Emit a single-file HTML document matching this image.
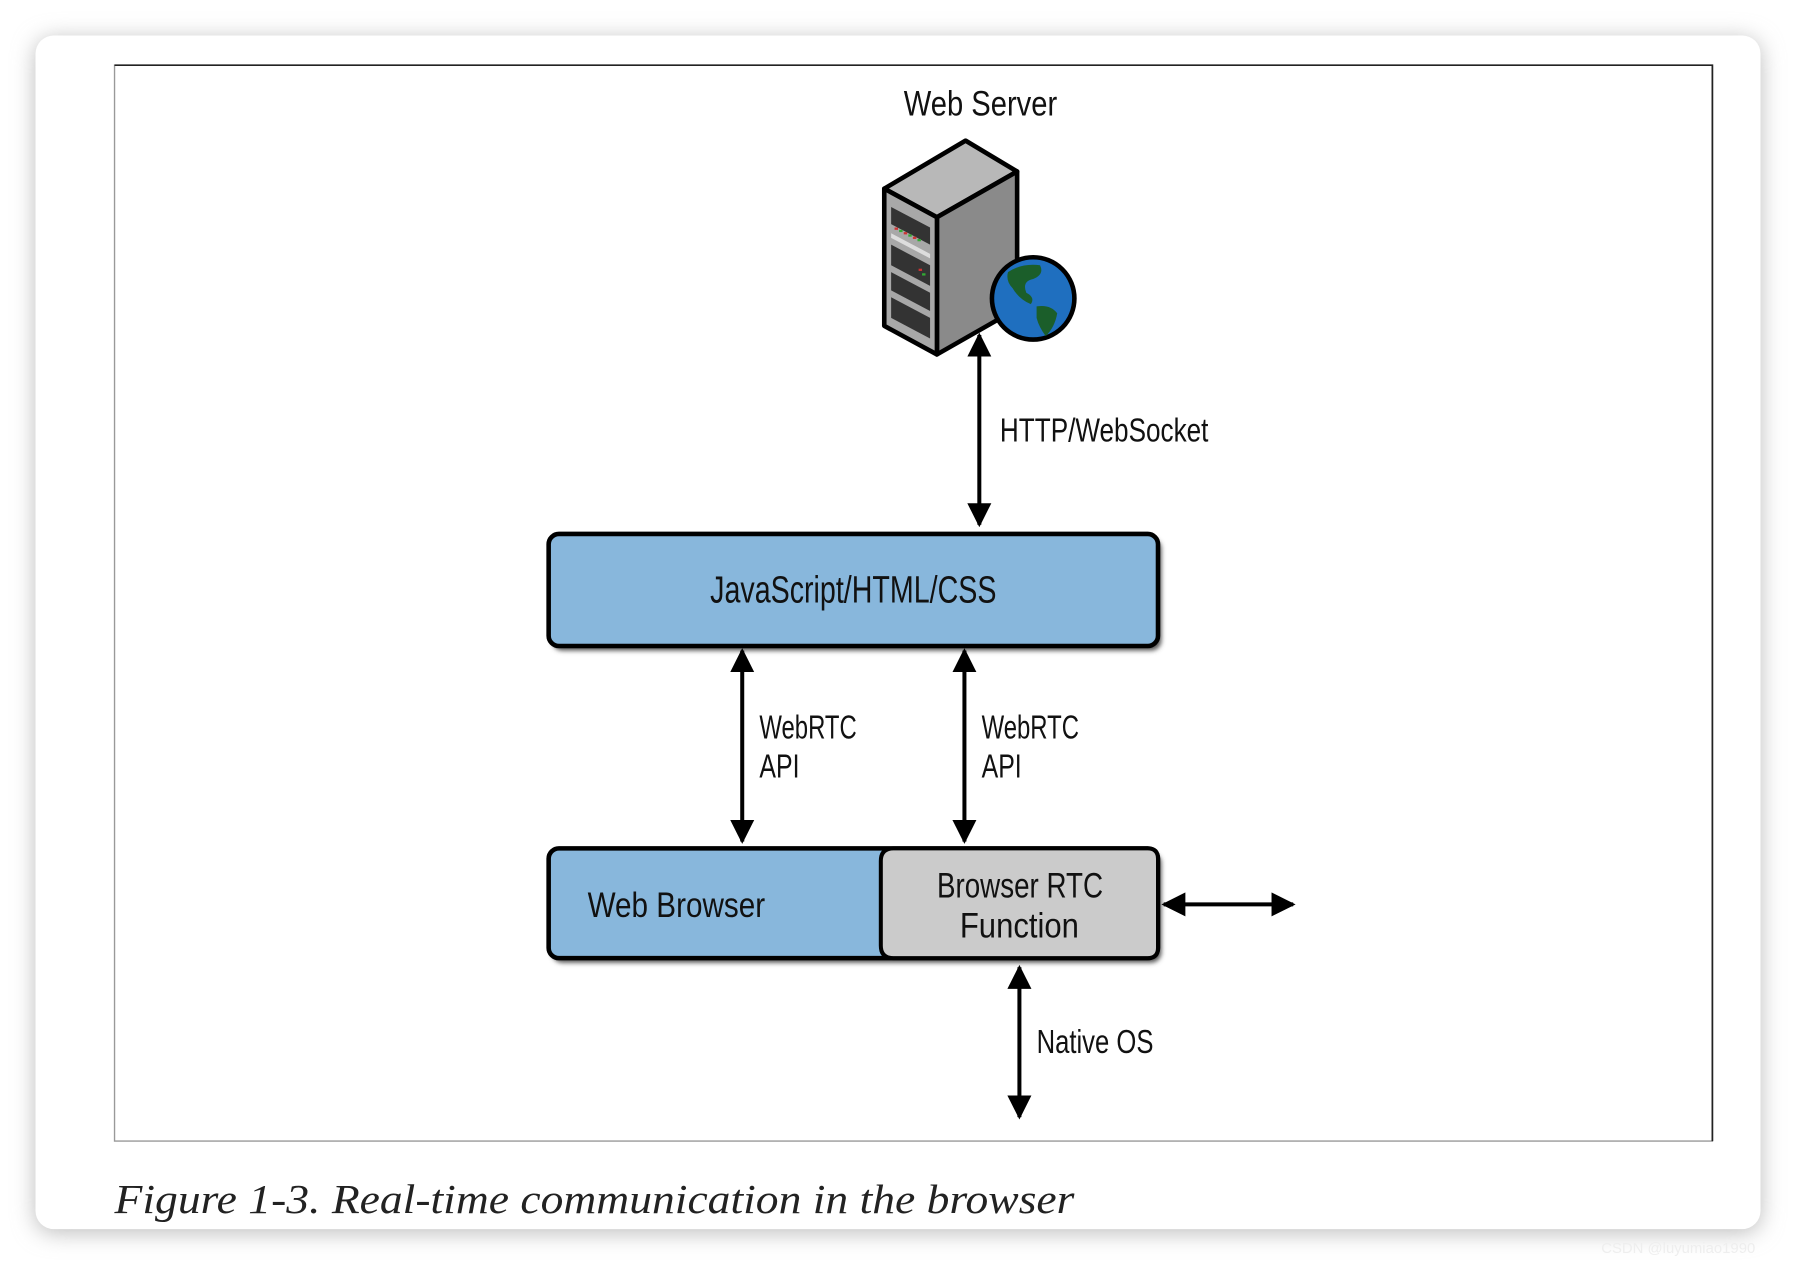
<!DOCTYPE html>
<html><head><meta charset="utf-8"><style>
html,body{margin:0;padding:0;background:#fff;width:1796px;height:1268px;overflow:hidden}
svg{display:block}
.t{font-family:"Liberation Sans",sans-serif;fill:#111}
</style></head><body>
<svg width="1796" height="1268" viewBox="0 0 1568 1109" preserveAspectRatio="none">
<defs>
<filter id="sh" x="-5%" y="-5%" width="110%" height="110%"><feGaussianBlur stdDeviation="10"/></filter>
<filter id="bs" x="-5%" y="-20%" width="110%" height="140%"><feGaussianBlur stdDeviation="2"/></filter>
<marker id="ah" viewBox="0 0 10 10" refX="9" refY="5" markerWidth="6" markerHeight="6" orient="auto-start-reverse"><path d="M0,0 L10,5 L0,10 z" fill="#000"/></marker>
</defs>
<rect x="0" y="0" width="1568" height="1109" fill="#fff"/>
<rect x="31" y="34" width="1506" height="1044" rx="16" fill="#bbb" filter="url(#sh)"/>
<rect x="31" y="31" width="1506" height="1044" rx="16" fill="#fff"/>
<path d="M100,998 L100,57 L1495,57 L1495,998 Z" fill="none" stroke="#999" stroke-width="1.2"/>
<path d="M100,57 L1495,57 L1495,998" fill="none" stroke="#222" stroke-width="1.5"/>

<text x="789" y="101" class="t" font-size="31" textLength="134" lengthAdjust="spacingAndGlyphs">Web Server</text>
<g stroke="#000" stroke-width="4" stroke-linejoin="round">
<polygon points="772,165 843,123 888,150 818,190" fill="#b8b8b8"/>
<polygon points="818,190 888,150 888,270 818,310" fill="#8a8a8a"/>
<polygon points="772,165 818,190 818,310 772,285" fill="#a8a8a8"/>
</g>
<g fill="#333">
<polygon points="778,181 812,199 812,214 778,196"/>
<polygon points="778,214 812,232 812,250 778,232"/>
<polygon points="778,238 812,256 812,272 778,254"/>
<polygon points="778,260 812,278 812,296 778,278"/>
</g>
<polygon points="778,204 812,222 812,226 778,208" fill="#ddd"/>
<g fill="#c33"><rect x="781" y="199" width="3" height="2"/><rect x="789" y="203" width="3" height="2"/><rect x="797" y="207" width="3" height="2"/><rect x="802" y="235" width="3" height="2"/></g>
<g fill="#3a3"><rect x="785" y="201" width="3" height="2"/><rect x="793" y="205" width="3" height="2"/><rect x="801" y="209" width="3" height="2"/><rect x="805" y="239" width="3" height="2"/></g>
<circle cx="902" cy="261" r="36" fill="#1f6fbf" stroke="#000" stroke-width="4"/>
<path d="M880,238 q12,-8 28,-6 q4,8 -6,12 q-10,2 -6,12 q8,4 4,10 q-10,-4 -16,-14 q-6,-6 -4,-14z" fill="#1b5e2a"/>
<path d="M905,268 q12,-2 18,6 q-2,12 -10,20 q-6,-8 -8,-16z" fill="#1b5e2a"/>

<line x1="855" y1="293" x2="855" y2="459" stroke="#000" stroke-width="3.5" marker-start="url(#ah)" marker-end="url(#ah)"/>
<text x="873" y="386" class="t" font-size="29" textLength="182" lengthAdjust="spacingAndGlyphs">HTTP/WebSocket</text>

<rect x="482" y="471" width="532" height="98" rx="9" fill="#555" filter="url(#bs)"/>
<rect x="479" y="467" width="532" height="98" rx="9" fill="#88b7dc" stroke="#000" stroke-width="4"/>
<text x="620" y="527" class="t" font-size="33" textLength="250" lengthAdjust="spacingAndGlyphs">JavaScript/HTML/CSS</text>

<line x1="648" y1="569" x2="648" y2="736" stroke="#000" stroke-width="3.5" marker-start="url(#ah)" marker-end="url(#ah)"/>
<line x1="842" y1="569" x2="842" y2="736" stroke="#000" stroke-width="3.5" marker-start="url(#ah)" marker-end="url(#ah)"/>
<text x="663" y="646" class="t" font-size="29" textLength="85" lengthAdjust="spacingAndGlyphs">WebRTC</text>
<text x="663" y="680" class="t" font-size="29" textLength="35" lengthAdjust="spacingAndGlyphs">API</text>
<text x="857" y="646" class="t" font-size="29" textLength="85" lengthAdjust="spacingAndGlyphs">WebRTC</text>
<text x="857" y="680" class="t" font-size="29" textLength="35" lengthAdjust="spacingAndGlyphs">API</text>

<rect x="482" y="746" width="532" height="96" rx="9" fill="#555" filter="url(#bs)"/>
<rect x="479" y="742" width="532" height="96" rx="9" fill="#88b7dc" stroke="#000" stroke-width="4"/>
<path d="M780,742 L1002,742 Q1011,742 1011,751 L1011,829 Q1011,838 1002,838 L780,838 Q769,838 769,827 L769,753 Q769,742 780,742 Z" fill="#cbcbcb" stroke="#000" stroke-width="3.5"/>
<text x="513" y="802" class="t" font-size="31" textLength="155" lengthAdjust="spacingAndGlyphs">Web Browser</text>
<text x="818" y="785" class="t" font-size="31" textLength="145" lengthAdjust="spacingAndGlyphs">Browser RTC</text>
<text x="838" y="820" class="t" font-size="31" textLength="104" lengthAdjust="spacingAndGlyphs">Function</text>

<line x1="1016" y1="791" x2="1129" y2="791" stroke="#000" stroke-width="3.5" marker-start="url(#ah)" marker-end="url(#ah)"/>
<line x1="890" y1="846" x2="890" y2="977" stroke="#000" stroke-width="3.5" marker-start="url(#ah)" marker-end="url(#ah)"/>
<text x="905" y="921" class="t" font-size="29" textLength="102" lengthAdjust="spacingAndGlyphs">Native OS</text>

<text x="100" y="1061" font-family="'Liberation Serif',serif" font-style="italic" font-size="36" fill="#222" textLength="838" lengthAdjust="spacingAndGlyphs">Figure 1-3. Real-time communication in the browser</text>
<text x="1398" y="1096" font-family="'Liberation Sans',sans-serif" font-size="13" fill="#eee">CSDN @luyumiao1990</text>
</svg>
</body></html>
